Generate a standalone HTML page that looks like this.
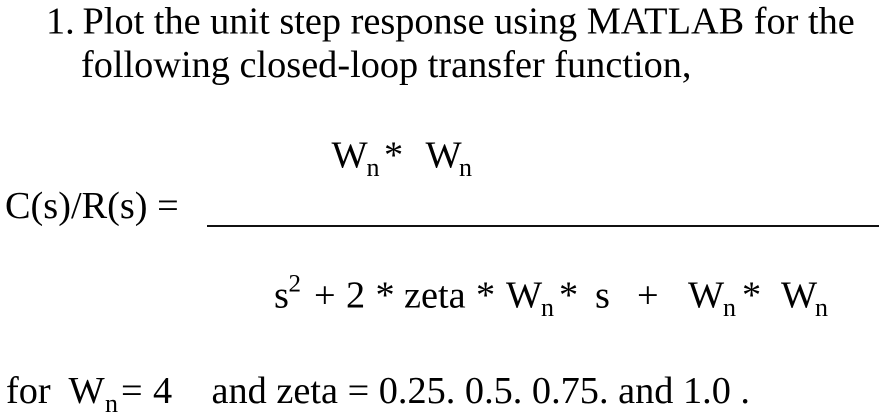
<!DOCTYPE html>
<html>
<head>
<meta charset="utf-8">
<style>
html,body{margin:0;padding:0;background:#fff;}
svg{display:block;}
text{font-family:"Liberation Serif",serif;font-size:38.3px;fill:#000;white-space:pre;}
.s{font-size:26px;}
.u{font-size:25px;}
</style>
</head>
<body>
<svg width="883" height="417" viewBox="0 0 883 417" xmlns="http://www.w3.org/2000/svg">
<text x="46" y="33.5">1.</text>
<text x="82.5" y="33.5">Plot the unit step response using MATLAB for the</text>
<text x="81" y="77">following closed-loop transfer function,</text>

<text x="331.5" y="167.5">W</text><text class="s" x="366.5" y="176">n</text>
<text x="384" y="167.5">*</text>
<text x="425.5" y="167.5">W</text><text class="s" x="459" y="176">n</text>

<text x="5" y="218">C(s)/R(s) =</text>
<rect x="207" y="225" width="672" height="2" fill="#111"/>

<text x="274" y="307.5">s</text><text class="u" x="288.5" y="291.5">2</text>
<text x="314" y="307.5">+</text>
<text x="346" y="307.5">2</text>
<text x="375.5" y="307.5">*</text>
<text x="404" y="307.5">zeta</text>
<text x="476" y="307.5">*</text>
<text x="506" y="307.5">W</text><text class="s" x="541" y="316">n</text>
<text x="559" y="307.5">*</text>
<text x="595" y="307.5">s</text>
<text x="637" y="307.5">+</text>
<text x="688" y="307.5">W</text><text class="s" x="723" y="316">n</text>
<text x="742" y="307.5">*</text>
<text x="781" y="307.5">W</text><text class="s" x="815" y="316">n</text>

<text x="6" y="403">for</text>
<text x="68.5" y="403">W</text><text class="s" x="105" y="412">n</text>
<text x="121" y="403">=</text>
<text x="153" y="403">4</text>
<text x="211.5" y="403">and zeta = 0.25. 0.5. 0.75. and 1.0 .</text>
</svg>
</body>
</html>
